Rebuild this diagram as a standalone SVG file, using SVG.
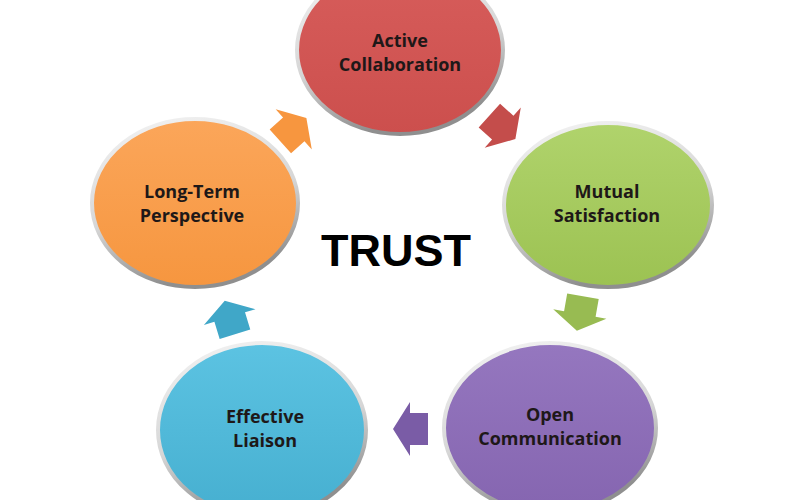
<svg xmlns="http://www.w3.org/2000/svg" xmlns:xlink="http://www.w3.org/1999/xlink" width="800" height="500" viewBox="0 0 800 500">
<style>
.lbl{font-family:"Open Sans",Lato,"Liberation Sans",sans-serif;font-weight:bold;font-size:18px;text-anchor:middle;fill:#1e1818}
.rim{stroke:url(#rimG);stroke-width:4}
.title{font-family:"Liberation Sans",Arial,sans-serif;font-weight:bold;font-size:45px;text-anchor:middle;fill:#000}
</style>
<defs>
<linearGradient id="rimG" x1="0" y1="0" x2="0.3" y2="1">
<stop offset="0" stop-color="#f4f4f4"/>
<stop offset="0.6" stop-color="#d6d6d6"/>
<stop offset="1" stop-color="#8f8f8f"/>
</linearGradient>
<linearGradient id="gRed" x1="0" y1="0" x2="0" y2="1"><stop offset="0" stop-color="#d75d5b"/><stop offset="1" stop-color="#cc4f4d"/></linearGradient>
<linearGradient id="gGreen" x1="0" y1="0" x2="0" y2="1"><stop offset="0" stop-color="#b0d36c"/><stop offset="1" stop-color="#9cc252"/></linearGradient>
<linearGradient id="gPurple" x1="0" y1="0" x2="0" y2="1"><stop offset="0" stop-color="#9577bf"/><stop offset="1" stop-color="#8565b0"/></linearGradient>
<linearGradient id="gBlue" x1="0" y1="0" x2="0" y2="1"><stop offset="0" stop-color="#5cc3e2"/><stop offset="1" stop-color="#46afd0"/></linearGradient>
<linearGradient id="gOrange" x1="0" y1="0" x2="0" y2="1"><stop offset="0" stop-color="#fba65a"/><stop offset="1" stop-color="#f6963f"/></linearGradient>
<polygon id="arrow" points="-17,-16 1,-16 1,-27 18,0 1,27 1,16 -17,16"/>
</defs>
<rect width="800" height="500" fill="#fff"/>
<g id="connectors">
<use xlink:href="#arrow" fill="#c44d4b" transform="translate(502,127) rotate(42)"/>
<use xlink:href="#arrow" fill="#98bb52" transform="translate(580,313) rotate(100)"/>
<use xlink:href="#arrow" fill="#7a5ca6" transform="translate(411,429) rotate(180)"/>
<use xlink:href="#arrow" fill="#40a7c8" transform="translate(230,318) rotate(-107)"/>
<use xlink:href="#arrow" fill="#f7963f" transform="translate(293,130) rotate(-42)"/>
</g>
<g id="active-collaboration">
<ellipse cx="400" cy="50" rx="103" ry="84" fill="url(#gRed)" class="rim"/>
<text class="lbl" x="400" y="47">Active</text>
<text class="lbl" x="400" y="71">Collaboration</text>
</g>
<g id="mutual-satisfaction">
<ellipse cx="608" cy="205" rx="104" ry="82" fill="url(#gGreen)" class="rim"/>
<text class="lbl" x="607" y="198">Mutual</text>
<text class="lbl" x="607" y="222">Satisfaction</text>
</g>
<g id="open-communication">
<ellipse cx="550" cy="428" rx="106" ry="85" fill="url(#gPurple)" class="rim"/>
<text class="lbl" x="550" y="421">Open</text>
<text class="lbl" x="550" y="445">Communication</text>
</g>
<g id="effective-liaison">
<ellipse cx="262" cy="430" rx="104" ry="87" fill="url(#gBlue)" class="rim"/>
<text class="lbl" x="265" y="423">Effective</text>
<text class="lbl" x="265" y="447">Liaison</text>
</g>
<g id="long-term-perspective">
<ellipse cx="195" cy="203" rx="103" ry="84" fill="url(#gOrange)" class="rim"/>
<text class="lbl" x="192" y="198">Long-Term</text>
<text class="lbl" x="192" y="222">Perspective</text>
</g>
<text class="title" x="396" y="266">TRUST</text>
</svg>
